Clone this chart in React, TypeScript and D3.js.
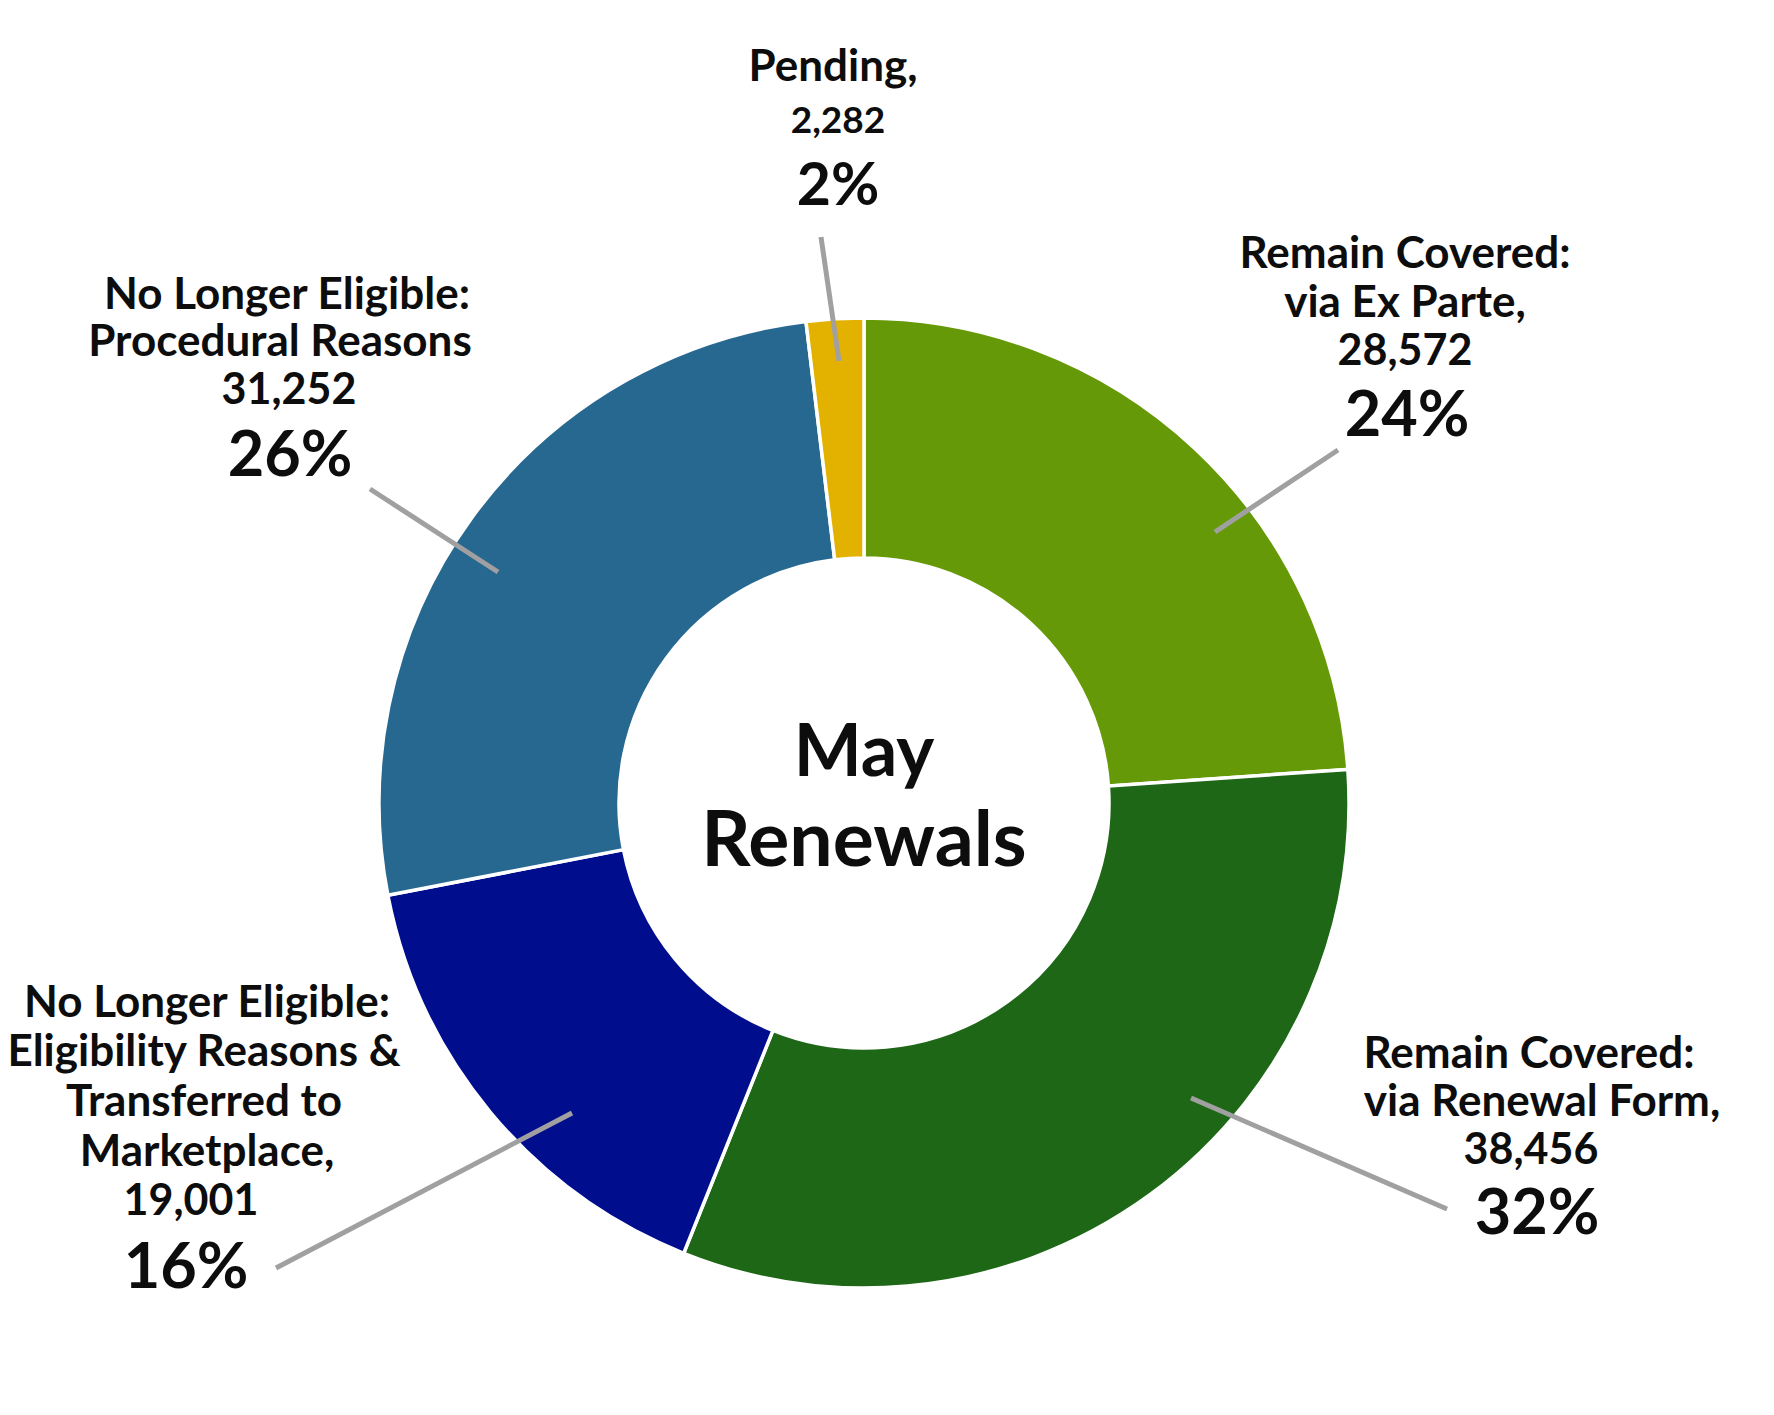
import React from "react";
import * as d3 from "d3";

const categories = [
  "Remain Covered: via Ex Parte",
  "Remain Covered: via Renewal Form",
  "No Longer Eligible: Eligibility Reasons & Transferred to Marketplace",
  "No Longer Eligible: Procedural Reasons",
  "Pending",
];
const values = [28572, 38456, 19001, 31252, 2282];
const colors = ["#669908", "#1D6716", "#000E8E", "#276891", "#E3B200"];
const labelLines = [
  ["Remain Covered:", "via Ex Parte,"],
  ["Remain Covered:", "via Renewal Form,"],
  ["No Longer Eligible:", "Eligibility Reasons &", "Transferred to", "Marketplace,"],
  ["No Longer Eligible:", "Procedural Reasons"],
  ["Pending,"],
];

// layout (positions only)
const W = 1774;
const H = 1415;
const CX = 864;
const CY = 803;
const R_OUT = 485;
const R_IN = 245;
const FONT = "Lato, 'Open Sans', sans-serif";

type Lay = {
  x: number;
  ys: number[];
  dxs: number[];
  numY: number;
  numDx: number;
  pctY: number;
  pctDx: number;
  nameSize: number;
  numSize: number;
  pctSize: number;
  lead: [number, number, number, number];
};
const layouts: Lay[] = [
  { x: 1405, ys: [268, 317], dxs: [0, 0], numY: 365, numDx: 0, pctY: 436, pctDx: 2, nameSize: 44, numSize: 43, pctSize: 63, lead: [1338, 450, 1215, 532] },
  { x: 1529, ys: [1068, 1116], dxs: [0, 13], numY: 1164, numDx: 2, pctY: 1234, pctDx: 8, nameSize: 44, numSize: 43, pctSize: 63, lead: [1191, 1098, 1447, 1209] },
  { x: 207, ys: [1017, 1066, 1116, 1166], dxs: [0, -3, -3, 0], numY: 1215, numDx: -16, pctY: 1288, pctDx: -21, nameSize: 44, numSize: 43, pctSize: 63, lead: [572, 1113, 276, 1268] },
  { x: 287, ys: [309, 356], dxs: [0, -7], numY: 404, numDx: 2, pctY: 476, pctDx: 3, nameSize: 44, numSize: 43, pctSize: 63, lead: [370, 489, 498, 572] },
  { x: 833, ys: [81], dxs: [0], numY: 133, numDx: 5, pctY: 205, pctDx: 5, nameSize: 44, numSize: 37, pctSize: 59, lead: [821, 237, 839, 361] },
];

export default function App() {
  const total = d3.sum(values);
  const pie = d3
    .pie<number>()
    .sort(null)
    .value((d) => d)
    .startAngle(0)
    .endAngle(2 * Math.PI);
  const arcs = pie(values);
  const arc = d3.arc<d3.PieArcDatum<number>>().innerRadius(R_IN).outerRadius(R_OUT);
  const fmt = d3.format(",");
  const pct = (v: number) => `${Math.round((v / total) * 100)}%`;

  return (
    <svg
      width={W}
      height={H}
      viewBox={`0 0 ${W} ${H}`}
      style={{ position: "absolute", left: 0, top: 0, background: "#fff" }}
    >
      <g transform={`translate(${CX},${CY})`}>
        {arcs.map((a, i) => (
          <path key={categories[i]} d={arc(a) || ""} fill={colors[i]} stroke="#fff" strokeWidth={3.5} />
        ))}
      </g>
      <text x={CX} y={776} textAnchor="middle" fontFamily={FONT} fontWeight={700} fontSize={72} fill="#0D0D0D">
        May
      </text>
      <text x={CX} y={866} textAnchor="middle" fontFamily={FONT} fontWeight={700} fontSize={77} fill="#0D0D0D">
        Renewals
      </text>
      {layouts.map((L, i) => (
        <g key={i}>
          <line
            x1={L.lead[0]}
            y1={L.lead[1]}
            x2={L.lead[2]}
            y2={L.lead[3]}
            stroke="#A0A0A0"
            strokeWidth={5}
          />
          {labelLines[i].map((t, j) => (
            <text
              key={j}
              x={L.x + L.dxs[j]}
              y={L.ys[j]}
              textAnchor="middle"
              fontFamily={FONT}
              fontWeight={700}
              fontSize={L.nameSize}
              fill="#0D0D0D"
            >
              {t}
            </text>
          ))}
          <text x={L.x + L.numDx} y={L.numY} textAnchor="middle" fontFamily={FONT} fontWeight={700} fontSize={L.numSize} fill="#0D0D0D">
            {fmt(values[i])}
          </text>
          <text x={L.x + L.pctDx} y={L.pctY} textAnchor="middle" fontFamily={FONT} fontWeight={700} fontSize={L.pctSize} fill="#0D0D0D">
            {pct(values[i])}
          </text>
        </g>
      ))}
    </svg>
  );
}
